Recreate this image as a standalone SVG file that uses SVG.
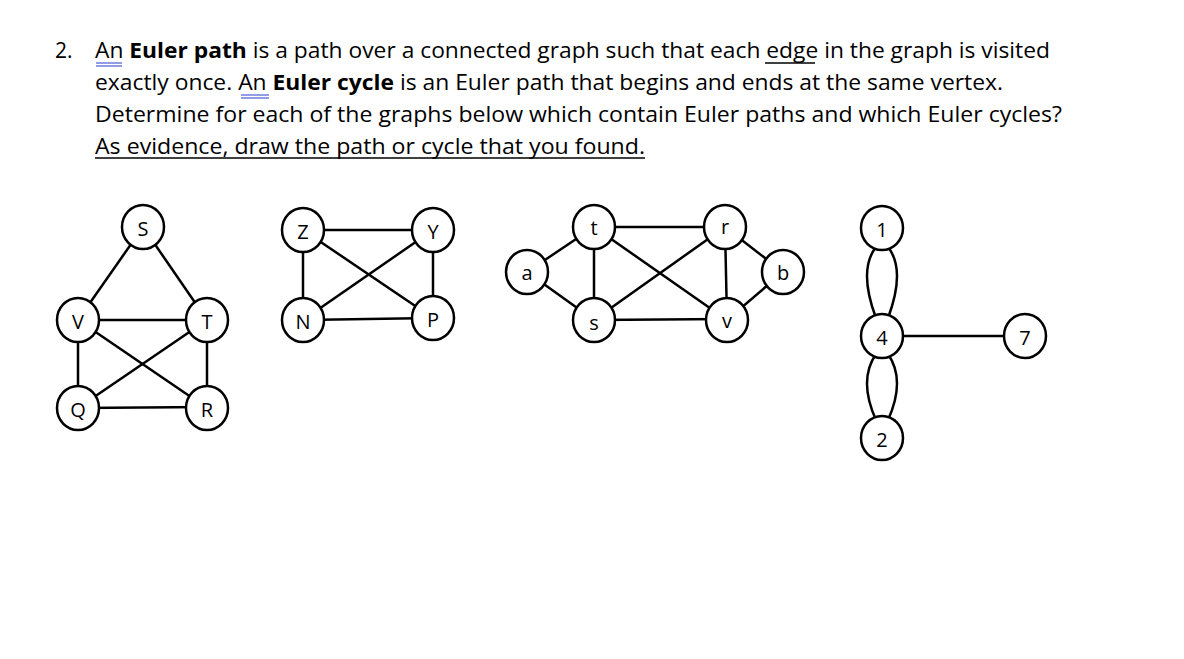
<svg xmlns="http://www.w3.org/2000/svg" width="1184" height="659" viewBox="0 0 1184 659">
<style>
.t{font-family:"Open Sans","Liberation Sans",sans-serif;font-size:21px;fill:#000}
.b{font-weight:bold}
.n ellipse{fill:#fff;stroke:#000;stroke-width:2.5}
.n text{font-family:"Open Sans","Liberation Sans",sans-serif;font-size:20px;text-anchor:middle;dominant-baseline:central}
#edges line,#edges path{stroke:#000;stroke-width:2.5;fill:none}
.u{stroke:#000;stroke-width:1.5}
.du{stroke:#4a5bd6;stroke-width:1.2}
</style>
<rect width="1184" height="659" fill="#fff"/>
<text class="t" x="55" y="58">2.</text>
<text class="t" x="95" y="58" textLength="955" lengthAdjust="spacingAndGlyphs">An <tspan class="b">Euler path</tspan> is a path over a connected graph such that each edge in the graph is visited</text>
<text class="t" x="95" y="90" textLength="908" lengthAdjust="spacingAndGlyphs">exactly once. An <tspan class="b">Euler cycle</tspan> is an Euler path that begins and ends at the same vertex.</text>
<text class="t" x="95" y="122" textLength="967" lengthAdjust="spacingAndGlyphs">Determine for each of the graphs below which contain Euler paths and which Euler cycles?</text>
<text class="t" x="95" y="154" textLength="550" lengthAdjust="spacingAndGlyphs">As evidence, draw the path or cycle that you found.</text>
<line class="du" x1="96" y1="63" x2="122" y2="63"/><line class="du" x1="96" y1="66" x2="122" y2="66"/>
<line class="du" x1="241" y1="95" x2="269" y2="95"/><line class="du" x1="241" y1="98" x2="269" y2="98"/>
<line class="u" x1="765" y1="63" x2="815" y2="63"/>
<line class="u" x1="95" y1="158" x2="645" y2="158"/>
<g id="edges">
<line x1="143" y1="227" x2="78" y2="320"/><line x1="143" y1="227" x2="207" y2="320"/>
<line x1="78" y1="320" x2="207" y2="320"/><line x1="78" y1="320" x2="78" y2="408"/>
<line x1="207" y1="320" x2="207" y2="408"/><line x1="78" y1="320" x2="207" y2="408"/>
<line x1="207" y1="320" x2="78" y2="408"/><line x1="78" y1="408" x2="207" y2="407"/>
<line x1="303" y1="230" x2="433" y2="230"/><line x1="303" y1="230" x2="303" y2="320"/>
<line x1="433" y1="230" x2="433" y2="318"/><line x1="303" y1="230" x2="433" y2="318"/>
<line x1="433" y1="230" x2="303" y2="320"/><line x1="303" y1="320" x2="433" y2="318"/>
<line x1="527" y1="272" x2="594" y2="227"/><line x1="527" y1="272" x2="594" y2="320"/>
<line x1="594" y1="227" x2="725" y2="227"/><line x1="594" y1="227" x2="594" y2="320"/>
<line x1="594" y1="227" x2="727" y2="320"/><line x1="725" y1="227" x2="594" y2="320"/>
<line x1="725" y1="227" x2="727" y2="320"/><line x1="594" y1="320" x2="727" y2="319"/>
<line x1="725" y1="227" x2="783" y2="272"/><line x1="727" y1="320" x2="783" y2="272"/>
<path d="M876 247 Q858 270 876 318"/><path d="M888 247 Q906 270 888 318"/>
<path d="M876 354 Q858 380 876 420"/><path d="M888 354 Q906 380 888 420"/>
<line x1="882" y1="336" x2="1025" y2="336"/>
</g>
<g id="n-S" class="n"><ellipse cx="143" cy="227" rx="21" ry="22"/><text x="143" y="228">S</text></g>
<g id="n-V" class="n"><ellipse cx="78" cy="320" rx="21" ry="22"/><text x="78" y="321">V</text></g>
<g id="n-T" class="n"><ellipse cx="207" cy="320" rx="21" ry="22"/><text x="207" y="321">T</text></g>
<g id="n-Q" class="n"><ellipse cx="78" cy="408" rx="21" ry="22"/><text x="78" y="409">Q</text></g>
<g id="n-R" class="n"><ellipse cx="207" cy="408" rx="21" ry="22"/><text x="207" y="409">R</text></g>
<g id="n-Z" class="n"><ellipse cx="303" cy="230" rx="21" ry="22"/><text x="303" y="231">Z</text></g>
<g id="n-Y" class="n"><ellipse cx="433" cy="230" rx="21" ry="22"/><text x="433" y="231">Y</text></g>
<g id="n-N" class="n"><ellipse cx="303" cy="320" rx="21" ry="22"/><text x="303" y="321">N</text></g>
<g id="n-P" class="n"><ellipse cx="433" cy="318" rx="21" ry="22"/><text x="433" y="319">P</text></g>
<g id="n-a" class="n"><ellipse cx="527" cy="272" rx="21" ry="22"/><text x="527" y="272">a</text></g>
<g id="n-t" class="n"><ellipse cx="594" cy="227" rx="21" ry="22"/><text x="594" y="227">t</text></g>
<g id="n-r" class="n"><ellipse cx="725" cy="227" rx="21" ry="22"/><text x="725" y="226">r</text></g>
<g id="n-b" class="n"><ellipse cx="783" cy="272" rx="21" ry="22"/><text x="783" y="272">b</text></g>
<g id="n-s" class="n"><ellipse cx="594" cy="320" rx="21" ry="22"/><text x="594" y="322">s</text></g>
<g id="n-v" class="n"><ellipse cx="727" cy="320" rx="21" ry="22"/><text x="727" y="320">v</text></g>
<g id="n-1" class="n"><ellipse cx="882" cy="228" rx="21" ry="22"/><text x="882" y="229">1</text></g>
<g id="n-4" class="n"><ellipse cx="882" cy="336" rx="21" ry="22"/><text x="882" y="337">4</text></g>
<g id="n-2" class="n"><ellipse cx="882" cy="438" rx="21" ry="22"/><text x="882" y="439">2</text></g>
<g id="n-7" class="n"><ellipse cx="1025" cy="336" rx="21" ry="22"/><text x="1025" y="337">7</text></g>
</svg>
